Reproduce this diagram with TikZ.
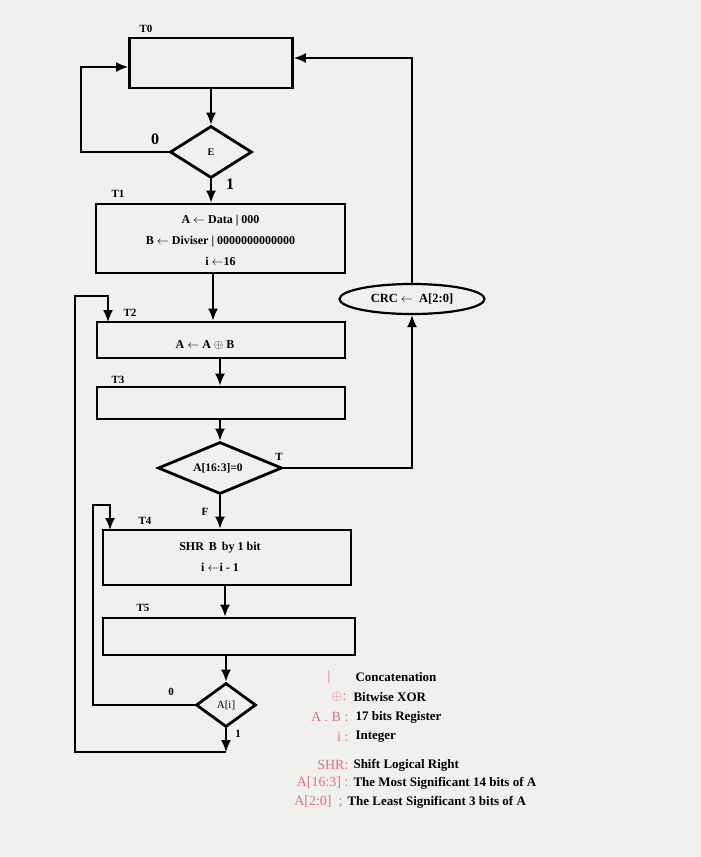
\documentclass[tikz,border=0pt]{standalone}
\usepackage{fontspec}
\setmainfont{Liberation Serif}
\usetikzlibrary{shapes.geometric,arrows.meta}
\definecolor{bg}{RGB}{240,240,238}
\definecolor{pk}{RGB}{226,110,135}
\begin{document}
\begin{tikzpicture}[x=1pt,y=-1pt,
  box/.style={draw,line width=2.8pt,inner sep=0pt},
  dia/.style={draw,diamond,line width=2.8pt,inner sep=0pt,aspect=1.6},
  ar/.style={line width=1.7pt,-{Latex[length=12pt,width=10pt]}},
  lab/.style={font=\bfseries\fontsize{11}{11}\selectfont},
  txt/.style={font=\bfseries\fontsize{12}{21}\selectfont,align=center},
  lg/.style={font=\bfseries\fontsize{13}{13}\selectfont,anchor=west},
  lp/.style={font=\fontsize{14}{14}\selectfont,text=pk,anchor=east}]
\fill[bg] (0,0) rectangle (701,857);
\useasboundingbox (0,0) rectangle (701,857);
% T0
\node[box,minimum width=163pt,minimum height=50pt] (t0) at (211,63) {};
\node[lab] (lt0) at (146,29) {T0};
\node[dia,minimum width=82pt,minimum height=52pt] (e) at (211,152) {\bfseries\fontsize{10}{10}\selectfont E};
\node[lab,font=\bfseries\fontsize{16}{16}\selectfont] (l0) at (155,139) {0};
\node[lab,font=\bfseries\fontsize{16}{16}\selectfont] (l1) at (230,184) {1};
% T1
\node[box,minimum width=249pt,minimum height=69pt] (t1) at (220.5,238.5) {};
\node[txt] (t1t) at (220.5,240) {A $\leftarrow$ Data | 000\\B $\leftarrow$ Diviser | 0000000000000\\i $\leftarrow$16};
\node[lab] (lt1) at (118,194) {T1};
% T2
\node[box,minimum width=248pt,minimum height=36pt] (t2) at (221,340) {};
\node[txt] (t2t) at (205,345) {A $\leftarrow$ A $\oplus$ B};
\node[lab] (lt2) at (130,313) {T2};
\coordinate (t2in) at (108,322);
% T3
\node[box,minimum width=248pt,minimum height=32pt] (t3) at (221,403) {};
\node[lab] (lt3) at (118,380) {T3};
% decision
\node[dia,minimum width=124pt,minimum height=52pt] (d) at (220,468) {};
\node[font=\bfseries\fontsize{11.5}{11.5}\selectfont] (dt) at (218,468) {A[16:3]=0};
\node[lab] (lT) at (279,457) {T};
\node[lab] (lF) at (205,512) {F};
% CRC
\node[draw,ellipse,line width=2.2pt,minimum width=145pt,minimum height=30pt,inner sep=0pt,font=\bfseries\fontsize{12.5}{12.5}\selectfont] (crc) at (412,299) {CRC $\leftarrow$\ \ A[2:0]};
% T4
\node[box,minimum width=248pt,minimum height=55pt] (t4) at (227,557.5) {};
\node[txt] (t4t) at (220,557) {SHR\, B\, by 1 bit\\i $\leftarrow$i - 1};
\node[lab] (lt4) at (145,521) {T4};
\coordinate (t4in) at (110,530);
% T5
\node[box,minimum width=252pt,minimum height=37pt] (t5) at (229,636.5) {};
\node[lab] (lt5) at (143,608) {T5};
% A[i]
\node[dia,minimum width=60pt,minimum height=44pt] (ai) at (226,705) {};
\node[font=\fontsize{11}{11}\selectfont] (ait) at (226,705) {A[i]};
\node[lab] (la0) at (171,692) {0};
\node[lab] (la1) at (238,734) {1};
\coordinate (bot) at (226,752);
% connectors
\draw[ar] (t0.south) -- (e.north);
\draw[ar] (e.west) -- (81,152) |- (t0.west |- 0,67);
\draw[ar] (e.south) -- (t1.north -| e.south);
\draw[ar] (t1.south -| 213,0) -- (t2.north -| 213,0);
\draw[ar] (t2.south -| 220,0) -- (t3.north -| 220,0);
\draw[ar] (t3.south -| 220,0) -- (d.north);
\draw[ar] (d.east) -| (crc.south);
\draw[ar] (crc.north) |- (t0.east |- 0,58);
\draw[ar] (d.south) -- (t4.north -| d.south);
\draw[ar] (t4.south -| 225,0) -- (t5.north -| 225,0);
\draw[ar] (t5.south -| ai.north) -- (ai.north);
\draw[ar] (ai.west) -- (93,705) -- (93,505) -| (t4in);
\draw[ar] (ai.south) -- (bot);
\draw[ar] (bot) -- (75,752) -- (75,296) -| (t2in);
% legend
\node[lp] (p1) at (334,677) {|};
\node[lg] (g1) at (352,677) {Concatenation};
\node[lp] (p2) at (350,697) {$\oplus$:};
\node[lg] (g2) at (350,697) {Bitwise XOR};
\node[lp] (p3) at (352,717) {A . B :};
\node[lg] (g3) at (352,717) {17 bits Register};
\node[lp] (p4) at (352,737) {i :};
\node[lg] (g4) at (352,737) {Integer};
\node[lp] (p5) at (352,765) {SHR:};
\node[lg] (g5) at (350,765) {Shift Logical Right};
\node[lp] (p6) at (352,783) {A[16:3] :};
\node[lg] (g6) at (350,783) {The Most Significant 14 bits of A};
\node[lp] (p7) at (346,802) {A[2:0]\ \ ;};
\node[lg] (g7) at (344,802) {The Least Significant 3 bits of A};
\end{tikzpicture}
\end{document}
